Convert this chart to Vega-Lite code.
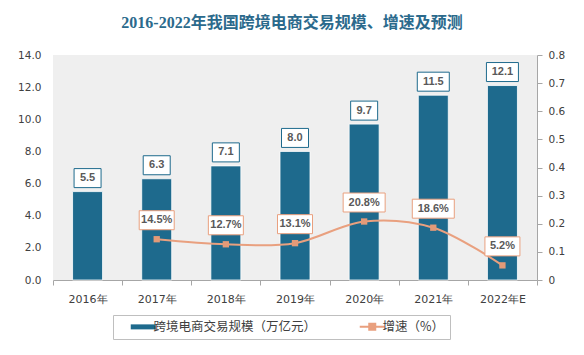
{
  "$schema": "https://vega.github.io/schema/vega-lite/v6.json",
  "width": 484,
  "height": 225,
  "autosize": {"type": "none"},
  "padding": {"left": 53, "top": 55, "right": 47, "bottom": 75},
  "background": "white",
  "title": {
    "text": "2016-2022年我国跨境电商交易规模、增速及预测",
    "font": "'Liberation Serif', 'Noto Sans CJK SC'",
    "fontSize": 16,
    "fontWeight": "bold",
    "color": "#2b6a8c",
    "anchor": "middle",
    "frame": "group",
    "dx": -3,
    "offset": 19
  },
  "config": {
    "view": {"fill": "#efefef", "stroke": null},
    "axis": {"labelFont": "DejaVu Sans", "labelFontSize": 10.5, "labelColor": "#404040"}
  },
  "data": {
    "values": [
      {"year": "2016年", "scale": 5.5, "growth": null},
      {"year": "2017年", "scale": 6.3, "growth": 0.145},
      {"year": "2018年", "scale": 7.1, "growth": 0.127},
      {"year": "2019年", "scale": 8.0, "growth": 0.131},
      {"year": "2020年", "scale": 9.7, "growth": 0.208},
      {"year": "2021年", "scale": 11.5, "growth": 0.186},
      {"year": "2022年E", "scale": 12.1, "growth": 0.052}
    ]
  },
  "encoding": {
    "x": {
      "field": "year",
      "type": "nominal",
      "sort": null,
      "title": null,
      "scale": {"paddingInner": 0, "paddingOuter": 0},
      "axis": {
        "labelAngle": 0,
        "tickBand": "extent",
        "domainColor": "#a6a6a6",
        "tickColor": "#a6a6a6",
        "tickSize": 5,
        "labelPadding": 8,
        "labelFontSize": 11
      }
    }
  },
  "layer": [
    {
      "encoding": {
        "y": {
          "field": "scale",
          "type": "quantitative",
          "title": null,
          "scale": {"domain": [0, 14]},
          "axis": {
            "values": [0, 2, 4, 6, 8, 10, 12, 14],
            "format": ".1f",
            "domain": false,
            "ticks": false,
            "grid": false,
            "labelPadding": 12
          }
        }
      },
      "layer": [
        {
          "mark": {"type": "bar", "size": 30, "stroke": "white", "strokeWidth": 0.8},
          "encoding": {
            "color": {
              "datum": "跨境电商交易规模（万亿元）",
              "type": "nominal",
              "scale": {
                "domain": ["跨境电商交易规模（万亿元）", "增速（%）"],
                "range": ["#1e6a8d", "#e9a07f"]
              },
              "legend": {
                "orient": "none",
                "legendX": 60,
                "legendY": 260,
                "direction": "horizontal",
                "title": null,
                "strokeColor": "#bfbfbf",
                "padding": 5,
                "symbolOffset": 19,
                "symbolSize": 625,
                "symbolType": {"expr": "datum.value == '增速（%）' ? 'M-1,0H1M-0.24,-0.24H0.24V0.24H-0.24Z' : 'M-1,-0.2H1V0.2H-1Z'"},
                "symbolStrokeWidth": {"expr": "datum.value == '增速（%）' ? 2 : 0"},
                "labelFont": "Noto Sans CJK SC",
                "labelFontSize": 12.5,
                "labelColor": "#404040",
                "labelOffset": 4,
                "columnPadding": 30,
                "labelLimit": 300,
                "encode": {
                  "symbols": {
                    "update": {
                      "shape": {"signal": "datum.value == '增速（%）' ? 'M-1,0H1M-0.24,-0.24H0.24V0.24H-0.24Z' : 'M-1,-0.2H1V0.2H-1Z'"},
                      "fill": {"signal": "datum.value == '增速（%）' ? '#e39a78' : '#1e6a8d'"},
                      "stroke": {"signal": "datum.value == '增速（%）' ? '#e9a07f' : '#1e6a8d'"},
                      "strokeWidth": {"signal": "datum.value == '增速（%）' ? 2 : 0"},
                      "opacity": {"value": 1}
                    }
                  }
                }
              }
            }
          }
        },
        {
          "mark": {
            "type": "point",
            "filled": true,
            "fill": "white",
            "stroke": "#1e6a8d",
            "strokeWidth": 1,
            "opacity": 1,
            "yOffset": -13.5
          },
          "encoding": {
            "shape": {
              "condition": {"test": "datum.scale >= 10", "value": "M-1,-0.594H1V0.594H-1Z"},
              "value": "M-1,-0.704H1V0.704H-1Z"
            },
            "size": {
              "condition": {"test": "datum.scale >= 10", "value": 1024},
              "value": 729
            }
          }
        },
        {
          "mark": {
            "type": "text",
            "dy": -13.5,
            "font": "Liberation Sans",
            "fontSize": 11,
            "fontWeight": "bold",
            "color": "#595959"
          },
          "encoding": {"text": {"field": "scale", "type": "quantitative", "format": ".1f"}}
        }
      ]
    },
    {
      "transform": [{"filter": "datum.growth != null"}],
      "encoding": {
        "y": {
          "field": "growth",
          "type": "quantitative",
          "title": null,
          "scale": {"domain": [0, 0.8]},
          "axis": {
            "orient": "right",
            "values": [0, 0.1, 0.2, 0.3, 0.4, 0.5, 0.6, 0.7, 0.8],
            "format": "~g",
            "domainColor": "#a6a6a6",
            "tickColor": "#a6a6a6",
            "tickSize": 5,
            "grid": false,
            "labelPadding": 6
          }
        }
      },
      "layer": [
        {
          "mark": {"type": "line", "interpolate": "catmull-rom", "strokeWidth": 2},
          "encoding": {"color": {"datum": "增速（%）", "type": "nominal"}}
        },
        {
          "mark": {
            "type": "point",
            "shape": "square",
            "size": 40,
            "filled": true,
            "color": "#e39a78",
            "opacity": 1
          }
        },
        {
          "mark": {
            "type": "point",
            "filled": true,
            "fill": "white",
            "stroke": "#e9a07f",
            "strokeWidth": 1,
            "opacity": 1,
            "yOffset": -19
          },
          "encoding": {
            "shape": {
              "condition": {"test": "datum.growth > 0.18", "value": "M-1,-0.452H1V0.452H-1Z"},
              "value": "M-1,-0.543H1V0.543H-1Z"
            },
            "size": {
              "condition": {"test": "datum.growth > 0.18", "value": 1764},
              "value": 1225
            }
          }
        },
        {
          "mark": {
            "type": "text",
            "dy": -19,
            "font": "Liberation Sans",
            "fontSize": 11,
            "fontWeight": "bold",
            "color": "#595959"
          },
          "encoding": {"text": {"field": "growth", "type": "quantitative", "format": ".1%"}}
        }
      ]
    }
  ],
  "resolve": {"scale": {"y": "independent"}}
}
